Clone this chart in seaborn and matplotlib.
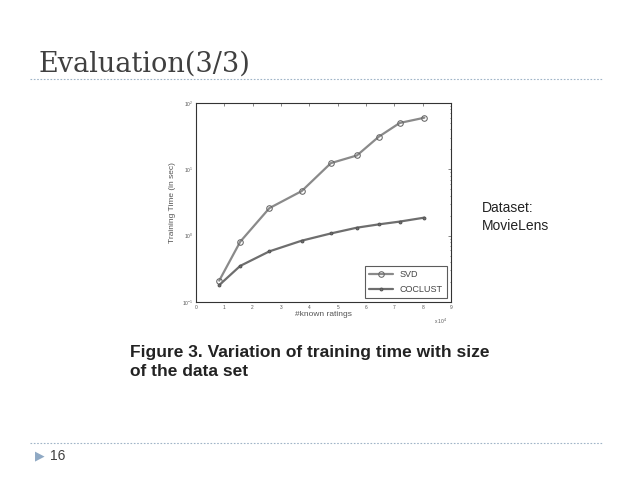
import numpy as np
import pandas as pd
import matplotlib
matplotlib.use('Agg')
import matplotlib.pyplot as plt
import seaborn as sns

# data (x in units of 1e4 ratings, y in seconds)
known_ratings = [0.82, 1.56, 2.59, 3.73, 4.76, 5.68, 6.45, 7.19, 8.06]
svd_time = [0.21, 0.81, 2.6, 4.7, 12.4, 16.2, 31, 50, 60]
coclust_time = [0.18, 0.35, 0.58, 0.84, 1.08, 1.32, 1.48, 1.63, 1.87]

df = pd.DataFrame({
    'ratings': known_ratings * 2,
    'time': svd_time + coclust_time,
    'method': ['SVD'] * len(svd_time) + ['COCLUST'] * len(coclust_time),
})

sns.set_style('white')
plt.rcParams['font.family'] = ['Liberation Sans', 'DejaVu Sans']

fig = plt.figure(figsize=(6.38, 4.79), dpi=100)

# slide decoration
fig.text(39 / 638, 1 - 72 / 479, 'Evaluation(3/3)', family='DejaVu Serif',
         fontsize=19.5, color='#404040', va='baseline')
for yy in [79, 443]:
    fig.add_artist(plt.Line2D([30 / 638, 602 / 638], [1 - yy / 479] * 2,
                              color='#9fb4c7', lw=0.8, ls=(0, (1.5, 1.5))))
fig.text(35 / 638, 1 - 456 / 479, '\u25B6', fontsize=9, color='#8fa9c4',
         va='center', family='DejaVu Sans')
fig.text(50 / 638, 1 - 456 / 479, '16', fontsize=10, color='#404040', va='center')

ax = fig.add_axes([196 / 638, 1 - 302 / 479, 255 / 638, 199 / 479])
sns.lineplot(data=df, x='ratings', y='time', hue='method', style='method',
             markers={'SVD': 'o', 'COCLUST': '.'}, dashes=False,
             palette={'SVD': '#8a8a8a', 'COCLUST': '#6e6e6e'},
             markersize=4, lw=1.6, ax=ax, legend=False)
ax.lines[0].set_markerfacecolor('none')
ax.lines[0].set_markeredgecolor('#666666')
ax.lines[1].set_markeredgecolor('#555555')
ax.set_yscale('log')
ax.set_xlim(0, 9)
ax.set_ylim(0.1, 100)
ax.set_xticks(range(10))
ax.tick_params(direction='in', top=True, right=True, labelsize=3.5,
               length=2, width=0.5, colors='#555555', pad=2)
ax.tick_params(which='minor', direction='in', top=True, right=True,
               length=1, width=0.4)
for s in ax.spines.values():
    s.set_color('#333333')
    s.set_linewidth(0.8)
ax.set_xlabel('#known ratings', fontsize=6, color='#555555', labelpad=1)
ax.set_ylabel('Training Time (in sec)', fontsize=6, color='#555555', labelpad=4)
ax.text(0.96, -0.075, 'x 10$^4$', transform=ax.transAxes, fontsize=3.5,
        color='#555555', ha='center', va='top')
leg = ax.legend(ax.lines[:2], ['SVD', 'COCLUST'], loc='lower right',
                fontsize=6.5, handlelength=2.6, labelspacing=0.6,
                frameon=True, fancybox=False, edgecolor='#333333',
                borderaxespad=0.4, borderpad=0.5)
leg.get_frame().set_linewidth(0.8)
for t in leg.get_texts():
    t.set_color('#444444')

fig.text(130 / 638, 1 - 345 / 479, 'Figure 3. Variation of training time with size\nof the data set',
         fontsize=12.5, fontweight='bold', color='#222222', va='top',
         linespacing=1.3, ma='left')
fig.text(482 / 638, 1 - 217 / 479, 'Dataset:\nMovieLens', fontsize=10,
         color='#222222', va='center', linespacing=1.3)

fig.savefig('out.png', dpi=100)
